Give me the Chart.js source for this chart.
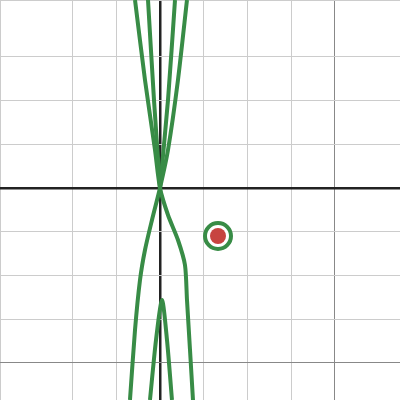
<!DOCTYPE html>
<html><head><script src="https://cdn.jsdelivr.net/npm/chart.js"></script>
<style>html,body{margin:0;padding:0;background:#fff}#c{width:400px;height:400px}</style></head>
<body><div id="c"><canvas id="cv" width="400" height="400"></canvas></div>
<script>
const curveA=[[-0.571,4.297],[-0.343,2.469],[-0.114,0.869],[0,0],[0.183,-0.617],[0.411,-1.189],[0.571,-1.76],[0.617,-2.56],[0.686,-3.703],[0.754,-4.846]];
const curveB=[[0.617,4.297],[0.411,2.469],[0.183,0.869],[0,0],[-0.183,-0.731],[-0.343,-1.417],[-0.457,-2.103],[-0.571,-3.246],[-0.686,-4.846]];
const curveC=[[-0.274,4.297],[-0.137,2.011],[0,0]];
const curveD=[[0.343,4.297],[0.183,2.011],[0,0]];
const curveE=[[-0.229,-4.846],[-0.091,-3.474],[0.046,-2.56],[0.16,-3.474],[0.274,-4.846]];
const pointP=[[1.326,-1.097]];
const G='#388c46';
const toXY=a=>a.map(p=>({x:p[0],y:p[1]}));
const line=d=>({type:'line',data:toXY(d),borderColor:G,borderWidth:4,pointRadius:0,tension:0.25,fill:false});
const gridColor=ctx=>{const v=ctx.tick.value;if(v===0)return '#222';if(v%4===0)return '#888';return '#ccc';};
const gridWidth=ctx=>ctx.tick.value===0?2.5:1;
new Chart(document.getElementById('cv'),{
 type:'scatter',
 data:{datasets:[
  {data:toXY(pointP),pointRadius:8,pointBackgroundColor:'#c74440',pointBorderColor:'#c74440',pointBorderWidth:0},
  {data:toXY(pointP),pointRadius:13,pointBackgroundColor:'#fff',pointBorderColor:G,pointBorderWidth:4},
  line(curveA),line(curveB),line(curveC),line(curveD),line(curveE)]},
 options:{responsive:false,animation:false,layout:{padding:0,autoPadding:false},
  plugins:{legend:{display:false},tooltip:{enabled:false}},
  scales:{
   x:{type:'linear',min:-3.657,max:5.486,ticks:{display:false,stepSize:1,padding:0},border:{display:false},grid:{color:gridColor,lineWidth:gridWidth,drawTicks:false}},
   y:{type:'linear',min:-4.846,max:4.297,ticks:{display:false,stepSize:1,padding:0},border:{display:false},grid:{color:gridColor,lineWidth:gridWidth,drawTicks:false}}
  }}
});
</script></body></html>
